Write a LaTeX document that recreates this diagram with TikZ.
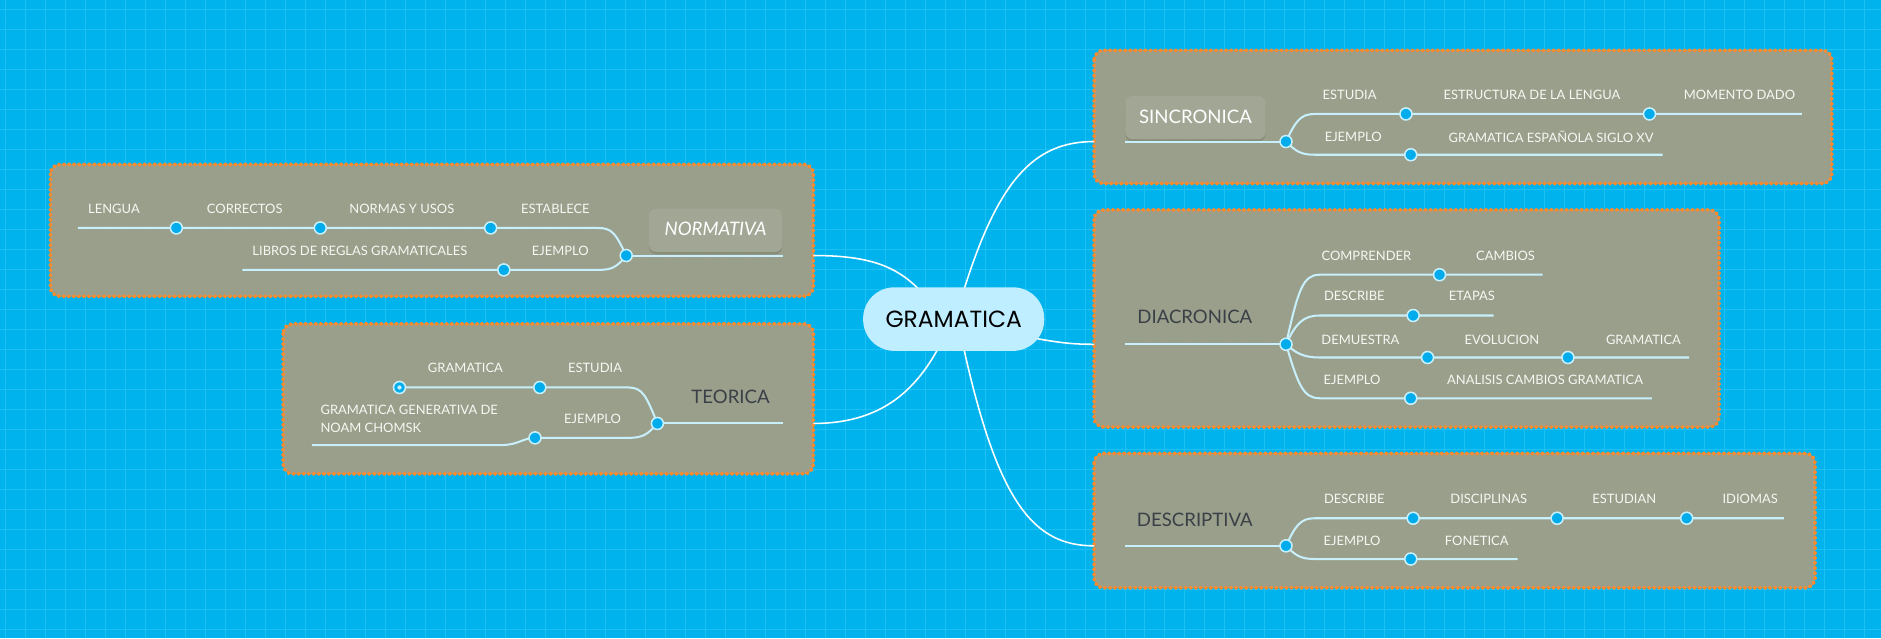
\documentclass[tikz,border=0pt]{standalone}
\usepackage{fontspec}
\setmainfont{Lato}
\newfontfamily\popfont{Poppins}
\usetikzlibrary{calc}
\definecolor{bgblue}{RGB}{0,179,236}
\definecolor{gridc}{RGB}{28,192,243}
\definecolor{boxfill}{RGB}{167,158,130}
\definecolor{titlefill}{RGB}{162,167,149}
\definecolor{dotorange}{RGB}{248,138,48}
\definecolor{linec}{RGB}{200,239,252}
\definecolor{dotfill}{RGB}{0,172,236}
\definecolor{darktext}{RGB}{58,64,72}
\definecolor{pillfill}{RGB}{190,238,255}
\definecolor{lbltext}{RGB}{246,248,244}
\pgfdeclarelayer{bg}
\pgfsetlayers{bg,main}
\begin{document}
\begin{tikzpicture}[x=1pt,y=-1pt,
  gridl/.style={draw=gridc,line width=0.7pt},
  groupfill/.style={fill=boxfill,fill opacity=0.92,rounded corners=8pt},
  groupedge/.style={draw=dotorange,line width=3pt,dash pattern=on 0.9pt off 3.3pt,line cap=round,rounded corners=8pt},
  titlebox/.style={fill=titlefill,rounded corners=6pt},
  shadowbox/.style={fill=black,fill opacity=0.10,rounded corners=6pt},
  br/.style={draw=linec,line width=1.7pt},
  mainc/.style={draw=white,line width=1.3pt},
  dotn/.style={circle,fill=dotfill,draw=linec,line width=1.3pt,minimum size=10pt,inner sep=0pt},
  lbl/.style={text=lbltext,font=\fontsize{10.8}{12.5}\selectfont,inner sep=0pt},
  ttl/.style={text=darktext,font=\fontsize{15.5}{18}\selectfont,inner sep=0pt},
  wttl/.style={text=white,font=\fontsize{15.5}{18}\selectfont,inner sep=0pt},
  pill/.style={fill=pillfill,rounded corners=26pt,minimum width=151pt,minimum height=53pt,inner sep=0pt,font=\popfont\fontsize{19.5}{22}\selectfont,text=black}
]
\useasboundingbox (0,0) rectangle (1568,532);

% central node
\node[pill] (g) at (795,266) {GRAMATICA};

\begin{pgfonlayer}{bg}
\fill[bgblue] (0,0) rectangle (1568,532);
\foreach \i in {0,...,94} \draw[gridl] ({4.2+\i*16.67},0) -- ({4.2+\i*16.67},532);
\foreach \j in {0,...,32} \draw[gridl] (0,{7.8+\j*16.67}) -- (1568,{7.8+\j*16.67});
% group boxes
\fill[groupfill] (42,137) rectangle (678,247);
\fill[groupfill] (236,270) rectangle (678,395);
\fill[groupfill] (912,42) rectangle (1527,153);
\fill[groupfill] (912,175) rectangle (1433,356);
\fill[groupfill] (912,378) rectangle (1513,490);
\draw[groupedge] (42,137) rectangle (678,247);
\draw[groupedge] (236,270) rectangle (678,395);
\draw[groupedge] (912,42) rectangle (1527,153);
\draw[groupedge] (912,175) rectangle (1433,356);
\draw[groupedge] (912,378) rectangle (1513,490);
% connector end points on the box edges
\coordinate (eN) at (678,213);
\coordinate (eT) at (678,353);
\coordinate (eS) at (912,118);
\coordinate (eDi) at (912,287);
\coordinate (eDe) at (912,455);
% main connectors
\draw[mainc] (eN) .. controls (725,213) and (748,222) .. ([xshift=-27pt,yshift=-4pt]g.north);
\draw[mainc] (eT) .. controls (732,353) and (762,328) .. ([xshift=-12pt,yshift=4pt]g.south);
\draw[mainc] ([xshift=8pt,yshift=-4pt]g.north) .. controls (832,150) and (862,118) .. (eS);
\draw[mainc] ([xshift=-8pt,yshift=-16pt]g.east) .. controls (885,286) and (895,287) .. (eDi);
\draw[mainc] ([xshift=8pt,yshift=4pt]g.south) .. controls (832,420) and (862,455) .. (eDe);
\end{pgfonlayer}

% ================= NORMATIVA =================
\fill[shadowbox] (541,176) rectangle (652,212);
\node[titlebox,minimum width=111pt,minimum height=36pt,inner sep=0pt] (tN) at (596.5,192) {};
\node[wttl,font=\itshape\fontsize{15.5}{18}\selectfont] (tNt) at (596.5,191) {NORMATIVA};
\coordinate (nJ) at (522,213);
\coordinate (nU) at (653,213);
\coordinate (n1) at (409,190);
\coordinate (n2) at (267,190);
\coordinate (n3) at (147,190);
\coordinate (n4) at (65,190);
\coordinate (n5) at (420,225);
\coordinate (n6) at (202,225);
\draw[br] (nJ) -- (nU);
\draw[br] (nJ) .. controls (513,194) and (510,190) .. (498,190) -- (n1) -- (n2) -- (n3) -- (n4);
\draw[br] (nJ) .. controls (514,223) and (510,225) .. (498,225) -- (n5) -- (n6);
\node[dotn] (dNJ) at (nJ) {};
\node[dotn] (dN1) at (n1) {};
\node[dotn] (dN2) at (n2) {};
\node[dotn] (dN3) at (n3) {};
\node[dotn] (dN5) at (n5) {};
\node[lbl] (lN1) at (463,174) {ESTABLECE};
\node[lbl] (lN2) at (335,174) {NORMAS Y USOS};
\node[lbl] (lN3) at (204,174) {CORRECTOS};
\node[lbl] (lN4) at (95,174) {LENGUA};
\node[lbl] (lN5) at (467,209) {EJEMPLO};
\node[lbl] (lN6) at (300,209) {LIBROS DE REGLAS GRAMATICALES};

% ================= TEORICA =================
\node[ttl] (tT) at (609,331) {TEORICA};
\coordinate (tJ) at (548,353);
\coordinate (tU) at (653,353);
\coordinate (t1) at (450,323);
\coordinate (t2) at (333,323);
\coordinate (t3) at (446,365);
\coordinate (t4) at (260,371);
\draw[br] (tJ) -- (tU);
\draw[br] (tJ) .. controls (539,331) and (536,323) .. (524,323) -- (t1) -- (t2);
\draw[br] (tJ) .. controls (540,362) and (536,365) .. (524,365) -- (t3) .. controls (436,365) and (432,371) .. (418,371) -- (t4);
\node[dotn] (dTJ) at (tJ) {};
\node[dotn] (dT1) at (t1) {};
\node[dotn] (dT2) at (t2) {};
\node[circle,fill=linec,minimum size=3.6pt,inner sep=0pt] (dT2c) at (t2) {};
\node[dotn] (dT3) at (t3) {};
\node[lbl] (lT1) at (496,307) {ESTUDIA};
\node[lbl] (lT2) at (388,307) {GRAMATICA};
\node[lbl] (lT3) at (494,349) {EJEMPLO};
\node[lbl,anchor=west,align=left,font=\fontsize{10.8}{15}\selectfont] (lT4) at (267,349.5) {GRAMATICA GENERATIVA DE\\NOAM CHOMSK};

% ================= SINCRONICA =================
\fill[shadowbox] (938,82) rectangle (1055,118);
\node[titlebox,minimum width=117pt,minimum height=36pt,inner sep=0pt] (tS) at (996.5,98) {};
\node[wttl] (tSt) at (996.5,97) {SINCRONICA};
\coordinate (sL) at (938,118);
\coordinate (sJ) at (1072,118);
\coordinate (s1) at (1172,95);
\coordinate (s2) at (1375,95);
\coordinate (s3) at (1502,95);
\coordinate (s4) at (1176,129);
\coordinate (s5) at (1386,129);
\draw[br] (sL) -- (sJ);
\draw[br] (sJ) .. controls (1080,101) and (1084,95) .. (1096,95) -- (s1) -- (s2) -- (s3);
\draw[br] (sJ) .. controls (1080,126) and (1084,129) .. (1096,129) -- (s4) -- (s5);
\node[dotn] (dSJ) at (sJ) {};
\node[dotn] (dS1) at (s1) {};
\node[dotn] (dS2) at (s2) {};
\node[dotn] (dS4) at (s4) {};
\node[lbl] (lS1) at (1125,79) {ESTUDIA};
\node[lbl] (lS2) at (1277,79) {ESTRUCTURA DE LA LENGUA};
\node[lbl] (lS3) at (1450,79) {MOMENTO DADO};
\node[lbl] (lS4) at (1128,114) {EJEMPLO};
\node[lbl] (lS5) at (1293,114) {GRAMATICA ESPAÑOLA SIGLO XV};

% ================= DIACRONICA =================
\node[ttl] (tD) at (996,264) {DIACRONICA};
\coordinate (dL) at (938,287);
\coordinate (dJ) at (1072,287);
\coordinate (d1) at (1200,229);
\coordinate (d1e) at (1286,229);
\coordinate (d2) at (1178,263);
\coordinate (d2e) at (1245,263);
\coordinate (d3) at (1190,298);
\coordinate (d3b) at (1307,298);
\coordinate (d3e) at (1408,298);
\coordinate (d4) at (1176,332);
\coordinate (d4e) at (1377,332);
\draw[br] (dL) -- (dJ);
\draw[br] (dJ) .. controls (1082,242) and (1086,229) .. (1100,229) -- (d1) -- (d1e);
\draw[br] (dJ) .. controls (1080,270) and (1086,263) .. (1100,263) -- (d2) -- (d2e);
\draw[br] (dJ) .. controls (1080,294) and (1086,298) .. (1100,298) -- (d3) -- (d3b) -- (d3e);
\draw[br] (dJ) .. controls (1082,320) and (1086,332) .. (1100,332) -- (d4) -- (d4e);
\node[dotn] (dDJ) at (dJ) {};
\node[dotn] (dD1) at (d1) {};
\node[dotn] (dD2) at (d2) {};
\node[dotn] (dD3) at (d3) {};
\node[dotn] (dD3b) at (d3b) {};
\node[dotn] (dD4) at (d4) {};
\node[lbl] (lD1) at (1139,213) {COMPRENDER};
\node[lbl] (lD2) at (1255,213) {CAMBIOS};
\node[lbl] (lD3) at (1129,247) {DESCRIBE};
\node[lbl] (lD4) at (1227,247) {ETAPAS};
\node[lbl] (lD5) at (1134,283) {DEMUESTRA};
\node[lbl] (lD6) at (1252,283) {EVOLUCION};
\node[lbl] (lD7) at (1370,283) {GRAMATICA};
\node[lbl] (lD8) at (1127,317) {EJEMPLO};
\node[lbl] (lD9) at (1288,317) {ANALISIS CAMBIOS GRAMATICA};

% ================= DESCRIPTIVA =================
\node[ttl] (tE) at (996,433) {DESCRIPTIVA};
\coordinate (eL) at (938,455);
\coordinate (eJ) at (1072,455);
\coordinate (e1) at (1178,432);
\coordinate (e2) at (1298,432);
\coordinate (e3) at (1406,432);
\coordinate (e4) at (1487,432);
\coordinate (e5) at (1176,466);
\coordinate (e6) at (1265,466);
\draw[br] (eL) -- (eJ);
\draw[br] (eJ) .. controls (1080,438) and (1084,432) .. (1096,432) -- (e1) -- (e2) -- (e3) -- (e4);
\draw[br] (eJ) .. controls (1080,463) and (1084,466) .. (1096,466) -- (e5) -- (e6);
\node[dotn] (dEJ) at (eJ) {};
\node[dotn] (dE1) at (e1) {};
\node[dotn] (dE2) at (e2) {};
\node[dotn] (dE3) at (e3) {};
\node[dotn] (dE5) at (e5) {};
\node[lbl] (lE1) at (1129,416) {DESCRIBE};
\node[lbl] (lE2) at (1241,416) {DISCIPLINAS};
\node[lbl] (lE3) at (1354,416) {ESTUDIAN};
\node[lbl] (lE4) at (1459,416) {IDIOMAS};
\node[lbl] (lE5) at (1127,451) {EJEMPLO};
\node[lbl] (lE6) at (1231,451) {FONETICA};
\end{tikzpicture}
\end{document}
